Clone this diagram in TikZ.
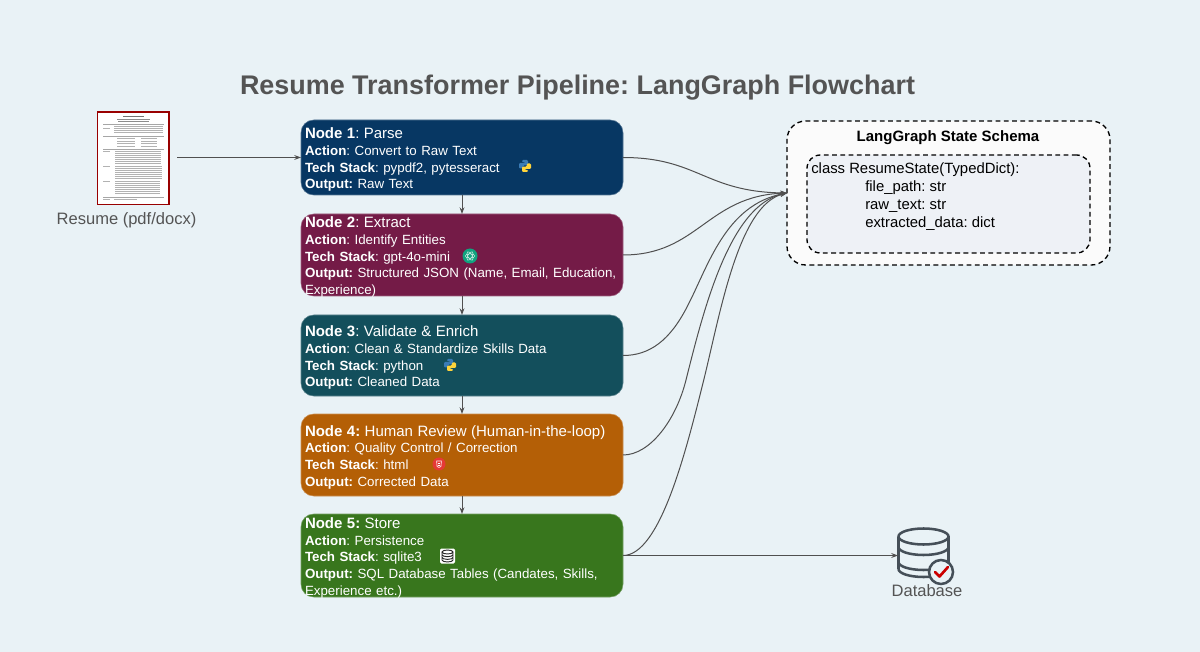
\documentclass[tikz,border=0pt]{standalone}
\usepackage{fontspec}
\setmainfont{Liberation Sans}
\usetikzlibrary{arrows.meta,shapes.geometric}
\definecolor{bgc}{HTML}{E9F2F6}
\definecolor{ink}{HTML}{545454}
\definecolor{conn}{HTML}{505050}
\definecolor{iconink}{HTML}{454F58}
\definecolor{cA}{HTML}{073763}
\definecolor{cB}{HTML}{741B47}
\definecolor{cC}{HTML}{134F5C}
\definecolor{cD}{HTML}{B45F06}
\definecolor{cE}{HTML}{38761D}
\definecolor{pyblue}{HTML}{3A7BB5}
\definecolor{pyyellow}{HTML}{FFD43B}
\definecolor{gptgreen}{HTML}{10A37F}
\definecolor{htmlred}{HTML}{E53935}
\definecolor{outerfill}{HTML}{FBFBFB}
\definecolor{innerfill}{HTML}{EEF1F6}
\newcommand{\headline}[1]{\rule{0pt}{11.5pt}{\fontsize{11.25}{12.5}\selectfont #1}}
\tikzset{
  x=0.75pt,y=-0.75pt,
  stage/.style={draw=#1!70!white,line width=0.4pt,fill=#1,rounded corners=9.5pt,text=white,
    align=left,minimum width=241.5pt,text width=235.5pt,inner xsep=3pt,inner ysep=-6pt,outer sep=0pt,
    font=\fontsize{10}{12.5}\selectfont},
  link/.style={draw=conn,line width=0.75pt,-{Stealth[length=5pt,width=3.6pt]}},
  schema/.style={draw=black,line width=1pt,dash pattern=on 3.6pt off 2.6pt,rounded corners=#1},
  caption/.style={text=ink,inner sep=0pt,font=\fontsize{12.4}{14}\selectfont},
  python/.pic={
    \fill[pyblue,rounded corners=0.8pt] (-3,-6) -- (3,-6) -- (3,-0.6) -- (-1.8,-0.6) -- (-1.8,2.5) -- (-6,2.5) -- (-6,-3) -- (0.5,-3) -- (0.5,-3.8) -- (-3,-3.8) -- cycle;
    \fill[pyyellow,rounded corners=0.8pt] (3,6) -- (-3,6) -- (-3,0.6) -- (1.8,0.6) -- (1.8,-2.5) -- (6,-2.5) -- (6,3) -- (-0.5,3) -- (-0.5,3.8) -- (3,3.8) -- cycle;
  },
}
\begin{document}
\frenchspacing
\begin{tikzpicture}
\useasboundingbox (0,0) rectangle (1200,652);
\fill[bgc] (0,0) rectangle (1200,652);

\node[text=ink,inner sep=0pt,font=\fontsize{20.2}{24}\selectfont\bfseries] (title) at (577.5,88) {Resume Transformer Pipeline: LangGraph Flowchart};

% Pipeline
\node[stage=cA,minimum height=56.25pt] (n1) at (462,157.5) {\headline{\textbf{Node 1}: Parse}\\\textbf{Action}: Convert to Raw Text\\\textbf{Tech Stack}: pypdf2, pytesseract\\\textbf{Output:} Raw Text};
\node[stage=cB,minimum height=61.5pt] (n2) at (462,255) {\headline{\textbf{Node 2}: Extract}\\\textbf{Action}: Identify Entities\\\textbf{Tech Stack}: gpt-4o-mini\\\textbf{Output:} Structured JSON (Name, Email, Education,\\Experience)};
\node[stage=cC,minimum height=60.75pt] (n3) at (462,355.5) {\headline{\textbf{Node 3}: Validate \& Enrich}\\\textbf{Action}: Clean \& Standardize Skills Data\\\textbf{Tech Stack}: python\\\textbf{Output:} Cleaned Data};
\node[stage=cD,minimum height=61.5pt] (n4) at (462,455) {\headline{\textbf{Node 4:} Human Review (Human-in-the-loop)}\\\textbf{Action}: Quality Control / Correction\\\textbf{Tech Stack}: html\\\textbf{Output:} Corrected Data};
\node[stage=cE,minimum height=62.25pt] (n5) at (462,555.5) {\headline{\textbf{Node 5:} Store}\\\textbf{Action}: Persistence\\\textbf{Tech Stack}: sqlite3\\\textbf{Output:} SQL Database Tables (Candates, Skills,\\Experience etc.)};

% Tech icons
\pic at (525,166) {python};
\pic at (450,365) {python};
\begin{scope}[shift={(470,256)}]
  \fill[gptgreen] (0,0) circle[radius=7.5];
  \foreach \a in {0,60,120}
    \draw[white!85!gptgreen,line width=0.35pt,rotate=\a] (0,0) ellipse[x radius=4.8,y radius=2.2];
\end{scope}
\begin{scope}[shift={(439,464)}]
  \fill[htmlred] (0,0) circle[radius=6.5];
  \draw[white,line width=0.45pt] (-2.4,-3) -- (2.4,-3) -- (1.9,2.6) -- (0,3.4) -- (-1.9,2.6) -- cycle;
  \draw[white,line width=0.4pt] (-1,-1) -- (1,-1) (-1,0.8) -- (1,0.8);
\end{scope}
\begin{scope}[shift={(447.5,556)}]
  \fill[white,rounded corners=1pt] (-7.5,-7.5) rectangle (7.5,7.5);
  \draw[black!85,line width=0.7pt] (0,-4) ellipse[x radius=5.5,y radius=2]
     (-5.5,-4) -- (-5.5,4) arc[start angle=180,end angle=0,x radius=5.5,y radius=2] -- (5.5,-4)
     (-5.5,-1.3) arc[start angle=180,end angle=0,x radius=5.5,y radius=2]
     (-5.5,1.4) arc[start angle=180,end angle=0,x radius=5.5,y radius=2];
\end{scope}

% Resume thumbnail
\node[minimum width=54pt,minimum height=69pt,outer xsep=6pt,inner sep=0pt] (resume) at (133,157.5) {};
\draw[fill=white,draw=red!60!black,line width=0.9pt] (97.5,112) rectangle (169,204.5);
\begin{scope}[line width=0.45pt]
  \draw[black!55,line width=0.8pt] (123,116.7) -- (144,116.7);
  \draw[black!45] (117,119.3) -- (150,119.3) (118,121.2) -- (149,121.2);
  \foreach \y in {124,136,149,197} \draw[black!35] (103,\y) -- (164,\y);
  \foreach \y in {126.5,128.5,130.5,132.5} \draw[black!30] (114,\y) -- (163,\y);
  \foreach \y in {138.5,141,143.5,146} \draw[black!30] (117,\y) -- (135,\y) (141,\y) -- (157,\y);
  \foreach \y in {151,153,155,157,159,161,163} \draw[black!30] (115,\y) -- (161,\y);
  \foreach \y in {166,168,170,172,174,176,178} \draw[black!30] (115,\y) -- (162,\y);
  \foreach \y in {181,183,185,187,189,191,193} \draw[black!30] (115,\y) -- (160,\y);
  \foreach \y in {128,151,166,181,199} \draw[black!30] (103,\y) -- (110,\y);
  \draw[black!30] (114,199) -- (137,199);
\end{scope}
\node[caption] (resumelabel) at (126.5,220.5) {Resume (pdf/docx)};

% Schema
\node[schema=14pt,fill=outerfill,minimum width=242.25pt,minimum height=108pt,inner sep=0pt,outer sep=0pt] (state) at (948.5,193) {};
\node[schema=10pt,fill=innerfill,minimum width=212.25pt,minimum height=73.5pt,inner sep=0pt] (inner) at (948.5,204) {};
\node[inner sep=0pt,font=\fontsize{11.25}{13}\selectfont\bfseries] (statetitle) at (948,137.5) {LangGraph State Schema};
\node[inner sep=0pt,anchor=north west,align=left,font=\fontsize{11.15}{13.5}\selectfont] (code) at (811,162) {class ResumeState(TypedDict):\\\hspace*{40.5pt}file\_path: str\\\hspace*{40.5pt}raw\_text: str\\\hspace*{40.5pt}extracted\_data: dict};

% Database icon
\node[minimum width=38.25pt,minimum height=36pt,inner sep=0pt,outer sep=0pt] (db) at (923.5,555.5) {};
\begin{scope}[iconink,line width=1.9pt]
  \draw (923.5,536.5) ellipse[x radius=25,y radius=8];
  \draw (898.5,536.5) -- (898.5,569);
  \draw (948.5,536.5) -- (948.5,565);
  \draw (898.5,547) arc[start angle=180,end angle=0,x radius=25,y radius=8];
  \draw (898.5,562) arc[start angle=180,end angle=40,x radius=25,y radius=8];
  \draw (898.5,569) arc[start angle=180,end angle=60,x radius=25,y radius=8];
  \draw[fill=bgc] (941,572) circle[radius=12];
  \draw[red!80!black,line width=2pt,line cap=round,line join=round] (935,572) -- (939.5,576.5) -- (948,567);
\end{scope}
\node[caption] (dblabel) at (927,590.5) {Database};

% Connectors
\draw[link] (resume.east) -- (n1.west);
\draw[link] (n1.south) -- (n2.north);
\draw[link] (n2.south) -- (n3.north);
\draw[link] (n3.south) -- (n4.north);
\draw[link] (n4.south) -- (n5.north);
\draw[link] (n5.east) -- (db.west);
\draw[link] (n1.east) .. controls +(75,0) and +(-82,-1) .. (state.west);
\draw[link] (n2.east) .. controls +(75,0) and +(-80,3) .. (state.west);
\draw[link] (n3.east) .. controls +(27,0) and (670,340) .. (687,307) .. controls (708,267) and (725,205) .. (state.west);
\draw[link] (n4.east) .. controls +(27,0) and (676,420) .. (686,380) .. controls (704,308) and (730,205) .. (state.west);
\draw[link] (n5.east) .. controls +(37,0) and (686,451) .. (703,383) .. controls (720,315) and (738,205) .. (state.west);
\end{tikzpicture}
\end{document}
